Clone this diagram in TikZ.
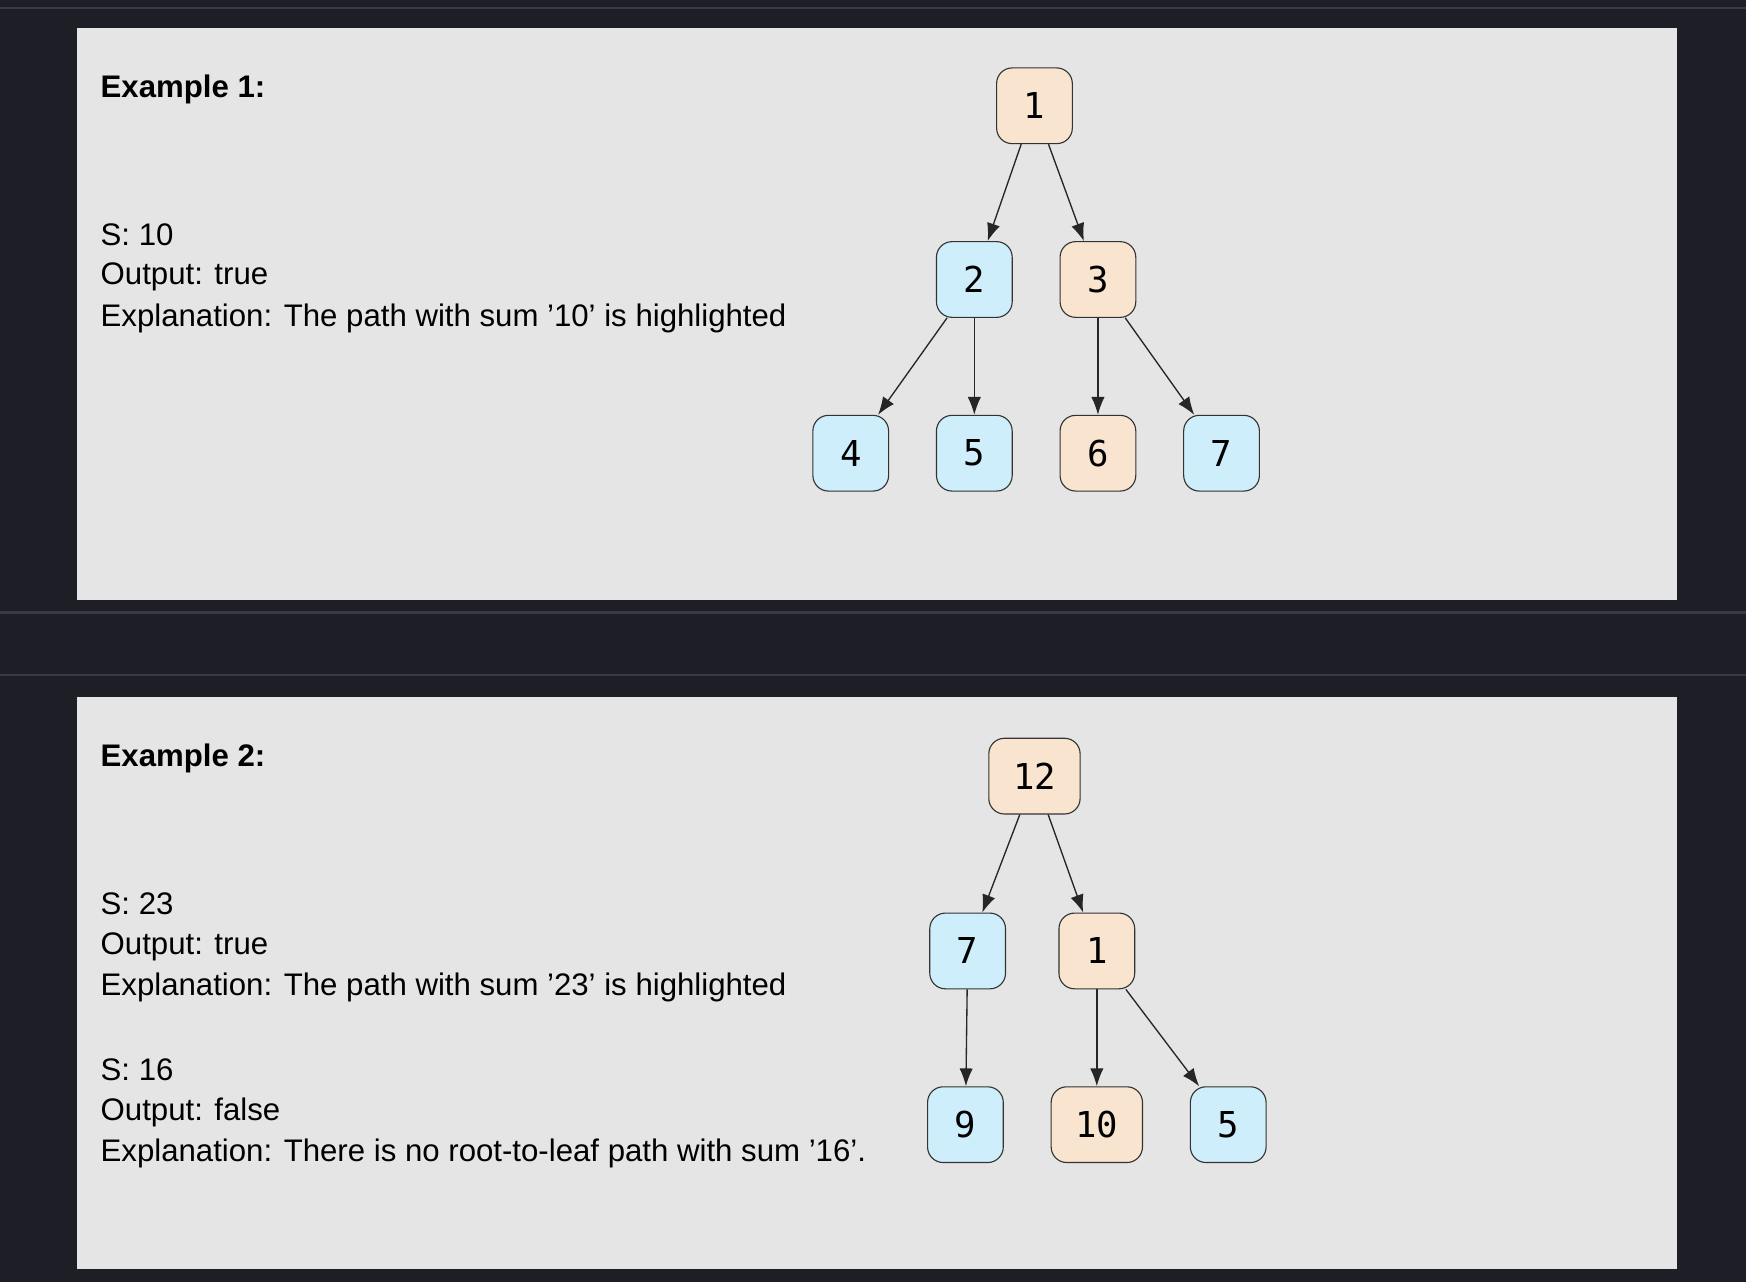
\documentclass[tikz,border=0pt]{standalone}
\usepackage{fontspec}
\setmainfont{Liberation Sans}
\newfontfamily\monof{DejaVu Sans Mono}
\usetikzlibrary{arrows.meta}
\definecolor{bgdark}{HTML}{1E1F26}
\definecolor{sepl}{HTML}{3A3B42}
\definecolor{panel}{HTML}{E5E5E5}
\definecolor{beige}{HTML}{F8E4CF}
\definecolor{lblue}{HTML}{CDEEFA}
\tikzset{
  tn/.style={draw=black!80, line width=0.5pt, rounded corners=7pt, minimum width=34pt, minimum height=34pt, inner sep=0pt, font=\monof\fontsize{16}{16}\selectfont},
  bn/.style={tn, fill=beige},
  cn/.style={tn, fill=lblue},
  wide/.style={minimum width=41pt},
  ed/.style={-{Latex[length=8pt,width=6pt]}, line width=0.6pt, draw=black!85},
  txt/.style={anchor=west, inner sep=0pt, font=\fontsize{14}{14}\selectfont},
}
\begin{document}
\begin{tikzpicture}[x=0.5pt,y=-0.5pt]
\useasboundingbox (0,0) rectangle (1568,1151);
\fill[bgdark] (0,0) rectangle (1568,1151);
\draw[sepl, line width=1pt] (0,7) -- (1568,7);
\draw[sepl, line width=1pt] (0,550) -- (1568,550);
\draw[sepl, line width=1pt] (0,606) -- (1568,606);
\fill[panel] (69,25) rectangle (1506,539);
\fill[panel] (69,626) rectangle (1506,1140);
% Example 1
\node[txt, font=\bfseries\fontsize{14}{14}\selectfont] (e1) at (90,80) {Example 1:};
\node[txt] (s1) at (90,211) {S: 10};
\node[txt] (o1) at (90,249) {Output: true};
\node[txt] (x1) at (90,286) {Explanation: The path with sum '10' is highlighted};
\node[bn] (a1) at (929,95) {1};
\node[cn] (a2) at (875,251) {2};
\node[bn] (a3) at (986,251) {3};
\node[cn] (a4) at (764,407) {4};
\node[cn] (a5) at (875,407) {5};
\node[bn] (a6) at (986,407) {6};
\node[cn] (a7) at (1097,407) {7};
\draw[ed] (a1) -- (a2);
\draw[ed] (a1) -- (a3);
\draw[ed] (a2) -- (a4);
\draw[ed] (a2) -- (a5);
\draw[ed] (a3) -- (a6);
\draw[ed] (a3) -- (a7);
% Example 2
\node[txt, font=\bfseries\fontsize{14}{14}\selectfont] (e2) at (90,681) {Example 2:};
\node[txt] (s2) at (90,812) {S: 23};
\node[txt] (o2) at (90,850) {Output: true};
\node[txt] (x2) at (90,887) {Explanation: The path with sum '23' is highlighted};
\node[txt] (s3) at (90,961) {S: 16};
\node[txt] (o3) at (90,999) {Output: false};
\node[txt] (x3) at (90,1036) {Explanation: There is no root-to-leaf path with sum '16'.};
\node[bn, wide] (b1) at (929,697) {12};
\node[cn] (b2) at (869,854) {7};
\node[bn] (b3) at (985,854) {1};
\node[cn] (b4) at (867,1010) {9};
\node[bn, wide] (b5) at (985,1010) {10};
\node[cn] (b6) at (1103,1010) {5};
\draw[ed] (b1) -- (b2);
\draw[ed] (b1) -- (b3);
\draw[ed] (b2) -- (b4);
\draw[ed] (b3) -- (b5);
\draw[ed] (b3) -- (b6);
\end{tikzpicture}
\end{document}
